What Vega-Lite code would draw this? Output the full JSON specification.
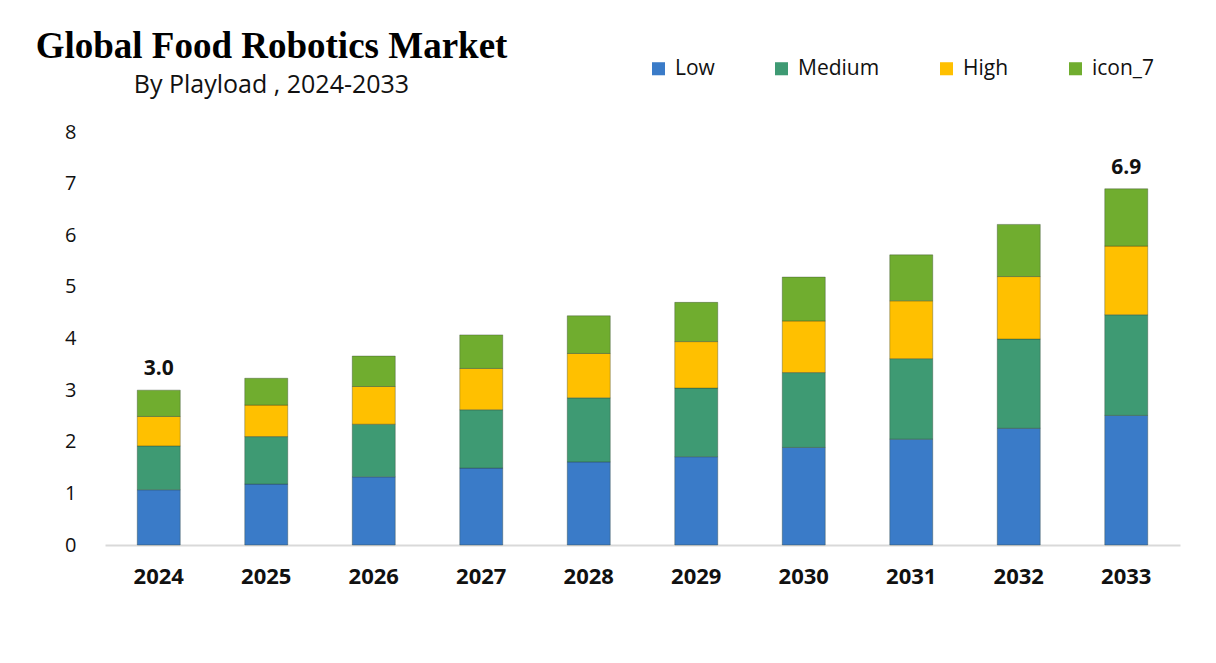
{
  "$schema": "https://vega.github.io/schema/vega-lite/v6.json",
  "width": 1075,
  "height": 413,
  "autosize": {"type": "none"},
  "padding": {"left": 105, "top": 132, "right": 36, "bottom": 118},
  "background": "white",
  "config": {"view": {"stroke": null}},
  "title": {
    "text": "Global Food Robotics Market",
    "subtitle": "By Playload , 2024-2033",
    "anchor": "middle",
    "dx": -371,
    "offset": -41,
    "font": "Liberation Serif",
    "fontSize": 37,
    "fontWeight": "bold",
    "color": "#000000",
    "subtitleFont": "Open Sans",
    "subtitleFontSize": 25,
    "subtitleColor": "#111111",
    "subtitlePadding": 7
  },
  "data": {
    "values": [
      {"year": "2024", "type": "Low", "value": 1.07},
      {"year": "2024", "type": "Medium", "value": 0.85},
      {"year": "2024", "type": "High", "value": 0.57},
      {"year": "2024", "type": "icon_7", "value": 0.51},
      {"year": "2025", "type": "Low", "value": 1.18},
      {"year": "2025", "type": "Medium", "value": 0.92},
      {"year": "2025", "type": "High", "value": 0.61},
      {"year": "2025", "type": "icon_7", "value": 0.52},
      {"year": "2026", "type": "Low", "value": 1.32},
      {"year": "2026", "type": "Medium", "value": 1.02},
      {"year": "2026", "type": "High", "value": 0.73},
      {"year": "2026", "type": "icon_7", "value": 0.59},
      {"year": "2027", "type": "Low", "value": 1.49},
      {"year": "2027", "type": "Medium", "value": 1.13},
      {"year": "2027", "type": "High", "value": 0.80},
      {"year": "2027", "type": "icon_7", "value": 0.65},
      {"year": "2028", "type": "Low", "value": 1.61},
      {"year": "2028", "type": "Medium", "value": 1.24},
      {"year": "2028", "type": "High", "value": 0.86},
      {"year": "2028", "type": "icon_7", "value": 0.73},
      {"year": "2029", "type": "Low", "value": 1.71},
      {"year": "2029", "type": "Medium", "value": 1.33},
      {"year": "2029", "type": "High", "value": 0.90},
      {"year": "2029", "type": "icon_7", "value": 0.76},
      {"year": "2030", "type": "Low", "value": 1.89},
      {"year": "2030", "type": "Medium", "value": 1.45},
      {"year": "2030", "type": "High", "value": 1.00},
      {"year": "2030", "type": "icon_7", "value": 0.85},
      {"year": "2031", "type": "Low", "value": 2.05},
      {"year": "2031", "type": "Medium", "value": 1.56},
      {"year": "2031", "type": "High", "value": 1.12},
      {"year": "2031", "type": "icon_7", "value": 0.89},
      {"year": "2032", "type": "Low", "value": 2.26},
      {"year": "2032", "type": "Medium", "value": 1.73},
      {"year": "2032", "type": "High", "value": 1.21},
      {"year": "2032", "type": "icon_7", "value": 1.01},
      {"year": "2033", "type": "Low", "value": 2.51},
      {"year": "2033", "type": "Medium", "value": 1.95},
      {"year": "2033", "type": "High", "value": 1.33},
      {"year": "2033", "type": "icon_7", "value": 1.11}
    ]
  },
  "encoding": {
    "x": {
      "field": "year",
      "type": "nominal",
      "title": null,
      "scale": {"paddingInner": 0.6, "paddingOuter": 0.3},
      "axis": {
        "labelAngle": 0,
        "labelFont": "Open Sans",
        "labelFontSize": 22,
        "labelFontWeight": "bold",
        "labelColor": "#111111",
        "labelPadding": 21,
        "ticks": false,
        "domainColor": "#d9d9d9",
        "domainWidth": 2
      }
    }
  },
  "layer": [
    {
      "transform": [
        {"calculate": "indexof(['Low','Medium','High','icon_7'], datum.type)", "as": "stackOrder"}
      ],
      "mark": {"type": "bar", "stroke": "#2b3a2b", "strokeOpacity": 0.35, "strokeWidth": 1},
      "encoding": {
        "y": {
          "field": "value",
          "type": "quantitative",
          "stack": "zero",
          "title": null,
          "scale": {"domain": [0, 8]},
          "axis": {
            "values": [0, 1, 2, 3, 4, 5, 6, 7, 8],
            "grid": false,
            "domain": false,
            "ticks": false,
            "labelFont": "Open Sans",
            "labelFontSize": 20,
            "labelColor": "#111111",
            "labelPadding": 29
          }
        },
        "order": {"field": "stackOrder", "type": "quantitative", "sort": "ascending"},
        "color": {
          "field": "type",
          "type": "nominal",
          "sort": ["Low", "Medium", "High", "icon_7"],
          "scale": {
            "domain": ["Low", "Medium", "High", "icon_7"],
            "range": ["#3a7bc8", "#3e9a73", "#ffc000", "#70ad2f"]
          },
          "legend": {
            "title": null,
            "orient": "none",
            "direction": "horizontal",
            "legendX": 543,
            "legendY": -74,
            "symbolType": "square",
            "symbolSize": 170,
            "symbolStrokeWidth": 0,
            "labelFont": "Open Sans",
            "labelFontSize": 21,
            "labelColor": "#111111",
            "labelOffset": 6,
            "columnPadding": 56
          }
        }
      }
    },
    {
      "transform": [
        {"aggregate": [{"op": "sum", "field": "value", "as": "total"}], "groupby": ["year"]},
        {"filter": "datum.year == '2024' || datum.year == '2033'"}
      ],
      "mark": {"type": "text", "baseline": "bottom", "dy": -11, "font": "Open Sans", "fontSize": 21, "fontWeight": "bold", "color": "#111111"},
      "encoding": {
        "y": {"field": "total", "type": "quantitative"},
        "text": {"field": "total", "type": "quantitative", "format": ".1f"}
      }
    }
  ]
}
